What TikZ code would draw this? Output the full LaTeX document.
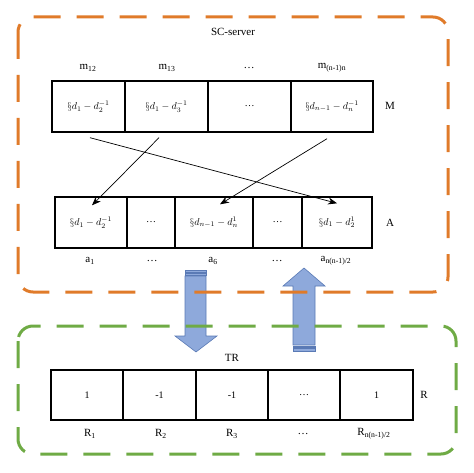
\documentclass[tikz,border=0pt]{standalone}
\usepackage{fontspec}
\setmainfont{Liberation Serif}
\usetikzlibrary{calc,arrows.meta}
\definecolor{orng}{HTML}{E07B2A}
\definecolor{grn}{HTML}{6FAB45}
\definecolor{bfill}{HTML}{8EA9DB}
\definecolor{bdraw}{HTML}{5A7AB5}
\begin{document}
\begin{tikzpicture}[x=1pt,y=-1pt,
 cell/.style={draw, line width=1.4pt, inner sep=0pt, font=\fontsize{10}{12}\selectfont},
 lbl/.style={inner sep=0pt, font=\fontsize{11}{13}\selectfont},
 conn/.style={line width=0.7pt, -{Stealth[length=9pt,width=7pt]}},
 frame/.style={dash pattern=on 27pt off 16pt, line width=3pt, rounded corners=15pt},
 blk/.style={fill=bfill, draw=bdraw, line width=0.6pt}]
\useasboundingbox (0,0) rectangle (474,473);

% M row
\node[cell, minimum width=73pt, minimum height=51pt] (m1) at (88.5,106.5) {$\S d_1 - d_2^{-1}$};
\node[cell, minimum width=83pt, minimum height=51pt] (m2) at (166.5,106.5) {$\S d_1 - d_3^{-1}$};
\node[cell, minimum width=83pt, minimum height=51pt] (m3) at (249.5,106.5) {\dots};
\node[cell, minimum width=82pt, minimum height=51pt] (m4) at (332,106.5) {$\S d_{n-1} - d_n^{-1}$};
\node[lbl] (lm1) at (88,68) {m\textsubscript{12}};
\node[lbl] (lm2) at (167,68) {m\textsubscript{13}};
\node[lbl] (lm3) at (249,68) {\dots};
\node[lbl] (lm4) at (332,68) {m\textsubscript{(n-1)n}};
\node[lbl] (M) at (390,106) {M};
\node[lbl] (sc) at (233,32) {SC-server};

% A row
\node[cell, minimum width=72pt, minimum height=51pt] (a1) at (91,222.5) {$\S d_1 - d_2^{-1}$};
\node[cell, minimum width=48pt, minimum height=51pt] (a2) at (151,222.5) {\dots};
\node[cell, minimum width=78pt, minimum height=51pt] (a3) at (214,222.5) {$\S d_{n-1} - d_n^{1}$};
\node[cell, minimum width=49pt, minimum height=51pt] (a4) at (277.5,222.5) {\dots};
\node[cell, minimum width=70pt, minimum height=51pt] (a5) at (337,222.5) {$\S d_1 - d_2^{1}$};
\node[lbl] (la1) at (90,261) {a\textsubscript{1}};
\node[lbl] (la2) at (152,261) {\dots};
\node[lbl] (la3) at (213,261) {a\textsubscript{6}};
\node[lbl] (la4) at (277,261) {\dots};
\node[lbl] (la5) at (336,261) {a\textsubscript{n(n-1)/2}};
\node[lbl] (A) at (390,223) {A};

% connectors
\draw[conn] ($(m1.south)+(1.5,5)$) -- ($(a5.north)+(0,7)$);
\draw[conn] ($(m2.south)+(-7.5,5)$) -- ($(a1.north)+(1,9)$);
\draw[conn] ($(m4.south)+(-5,6)$) -- ($(a3.north)+(6,8)$);

% R row
\node[cell, minimum width=72pt, minimum height=50pt] (r1) at (87,395) {1};
\node[cell, minimum width=73pt, minimum height=50pt] (r2) at (159.5,395) {-1};
\node[cell, minimum width=72pt, minimum height=50pt] (r3) at (232,395) {-1};
\node[cell, minimum width=72pt, minimum height=50pt] (r4) at (304,395) {\dots};
\node[cell, minimum width=73pt, minimum height=50pt] (r5) at (376.5,395) {1};
\node[lbl] (lr1) at (90,434) {R\textsubscript{1}};
\node[lbl] (lr2) at (161,434) {R\textsubscript{2}};
\node[lbl] (lr3) at (232,434) {R\textsubscript{3}};
\node[lbl] (lr4) at (303,434) {\dots};
\node[lbl] (lr5) at (374,434) {R\textsubscript{n(n-1)/2}};
\node[lbl] (R) at (424,395) {R};
\node[lbl] (TR) at (232,358) {TR};

% block arrows
\draw[blk] (185,276) -- (206,276) -- (206,336) -- (217,336) -- (196,352) -- (175,336) -- (185,336) -- cycle;
\draw[blk] (185,270) rectangle (206,272.5);
\draw[blk] (185,273.5) rectangle (206,275);
\draw[blk] (293,345) -- (315,345) -- (315,286) -- (325,286) -- (304,268) -- (283,286) -- (293,286) -- cycle;
\draw[blk] (293,346) rectangle (315,347.5);
\draw[blk] (293,348.5) rectangle (315,351);

% frames
\draw[frame, draw=orng] (18,17) rectangle (448,292);
\draw[frame, draw=grn] (18,326) rectangle (456,454);
\end{tikzpicture}
\end{document}
